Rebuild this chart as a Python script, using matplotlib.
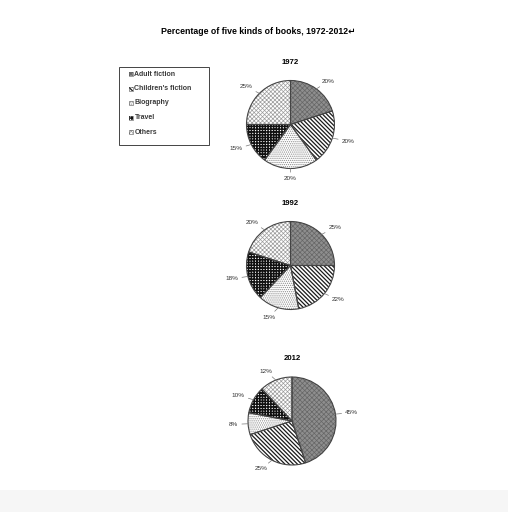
import numpy as np
import matplotlib
matplotlib.use('Agg')
import matplotlib.pyplot as plt
from matplotlib.patches import Rectangle

plt.rcParams['font.family'] = ['Liberation Sans', 'DejaVu Sans']
plt.rcParams['hatch.linewidth'] = 0.6

W, H = 508, 512

categories = ['Adult fiction', "Children's fiction", 'Biography', 'Travel', 'Others']
years = ['1972', '1992', '2012']
shares_1972 = [20, 20, 20, 15, 25]
shares_1992 = [25, 22, 15, 18, 20]
shares_2012 = [45, 25, 8, 10, 12]

# look of each category: face colour, hatch colour, hatch, hatch width
faces = ['#8e8e8e', 'white', 'white', 'white', 'white']
hatch_cols = ['#666666', '#1a1a1a', '#8a8a8a', '#111111', '#9c9c9c']
hatches = ['xxxxxxx', '\\' * 8, '.' * 8, '+' * 6, 'x' * 8]
hatch_lw = [0.5, 0.9, 0.6, 1.1, 0.5]

# pie centres / radius in pixels
centres = [(290.5, 124.5), (290.5, 265.5), (292, 421)]
radius = 44


def style_wedges(patches):
    for w, hc, h, lw in zip(patches, hatch_cols, hatches, hatch_lw):
        w.set_edgecolor(hc)
        w.set_hatch(h)
        if hasattr(w, 'set_hatch_linewidth'):
            w.set_hatch_linewidth(lw)


def draw_pie(ax, vals, year):
    wedges, _ = ax.pie(vals, startangle=90, counterclock=False, radius=1,
                       colors=faces, wedgeprops=dict(linewidth=0))
    style_wedges(wedges)
    # outlines on top
    ax.pie(vals, startangle=90, counterclock=False, radius=1,
           colors=['none'] * len(vals),
           wedgeprops=dict(linewidth=0.8, edgecolor='#444444'))
    ax.set_xlim(-1, 1)
    ax.set_ylim(-1, 1)
    ax.axis('off')
    for w, v in zip(wedges, vals):
        ang = np.deg2rad((w.theta1 + w.theta2) / 2)
        x, y = np.cos(ang), np.sin(ang)
        ax.annotate(f'{v}%', xy=(x, y), xytext=(1.22 * x, 1.22 * y),
                    ha='left' if x > 0.1 else ('right' if x < -0.1 else 'center'),
                    va='center', fontsize=4.6, color='#333333',
                    arrowprops=dict(arrowstyle='-', lw=0.5, color='#777777',
                                    shrinkA=0.5, shrinkB=0))
    ax.text(0, 1.42, year, ha='center', va='center', fontsize=5.6,
            fontweight='bold')


fig = plt.figure(figsize=(W / 100, H / 100), dpi=100)

for (cx, cy), vals, year in zip(centres, [shares_1972, shares_1992, shares_2012], years):
    ax = fig.add_axes([(cx - radius) / W, 1 - (cy + radius) / H,
                       2 * radius / W, 2 * radius / H])
    draw_pie(ax, vals, year)

fig.text(258 / W, 1 - 32 / H, 'Percentage of five kinds of books, 1972-2012\u21b5',
         ha='center', va='center', fontsize=6.3, fontweight='bold')

# legend box drawn by hand
fig.patches.append(Rectangle((119 / W, 1 - 145 / H), 90 / W, 78 / H,
                             transform=fig.transFigure, facecolor='white',
                             edgecolor='#444444', linewidth=0.7))
markers = []
for i, name in enumerate(categories):
    yc = 74 + i * 14.5
    m = Rectangle((129 / W, 1 - (yc + 2) / H), 4 / W, 4 / H,
                  transform=fig.transFigure, facecolor=faces[i], linewidth=0)
    markers.append(m)
    fig.patches.append(m)
    fig.patches.append(Rectangle((129 / W, 1 - (yc + 2) / H), 4 / W, 4 / H,
                                 transform=fig.transFigure, facecolor='none',
                                 edgecolor='#555555', linewidth=0.4))
    fig.text(134.5 / W, 1 - yc / H, name, ha='left', va='center',
             fontsize=5, fontweight='bold', color='#3a3a3a')
style_wedges(markers)

# faint grey strip at the bottom of the page
fig.patches.append(Rectangle((0, 0), 1, 22 / H, transform=fig.transFigure,
                             facecolor='#f6f6f6', edgecolor='none', zorder=-1))

fig.savefig('out.png', dpi=100)
